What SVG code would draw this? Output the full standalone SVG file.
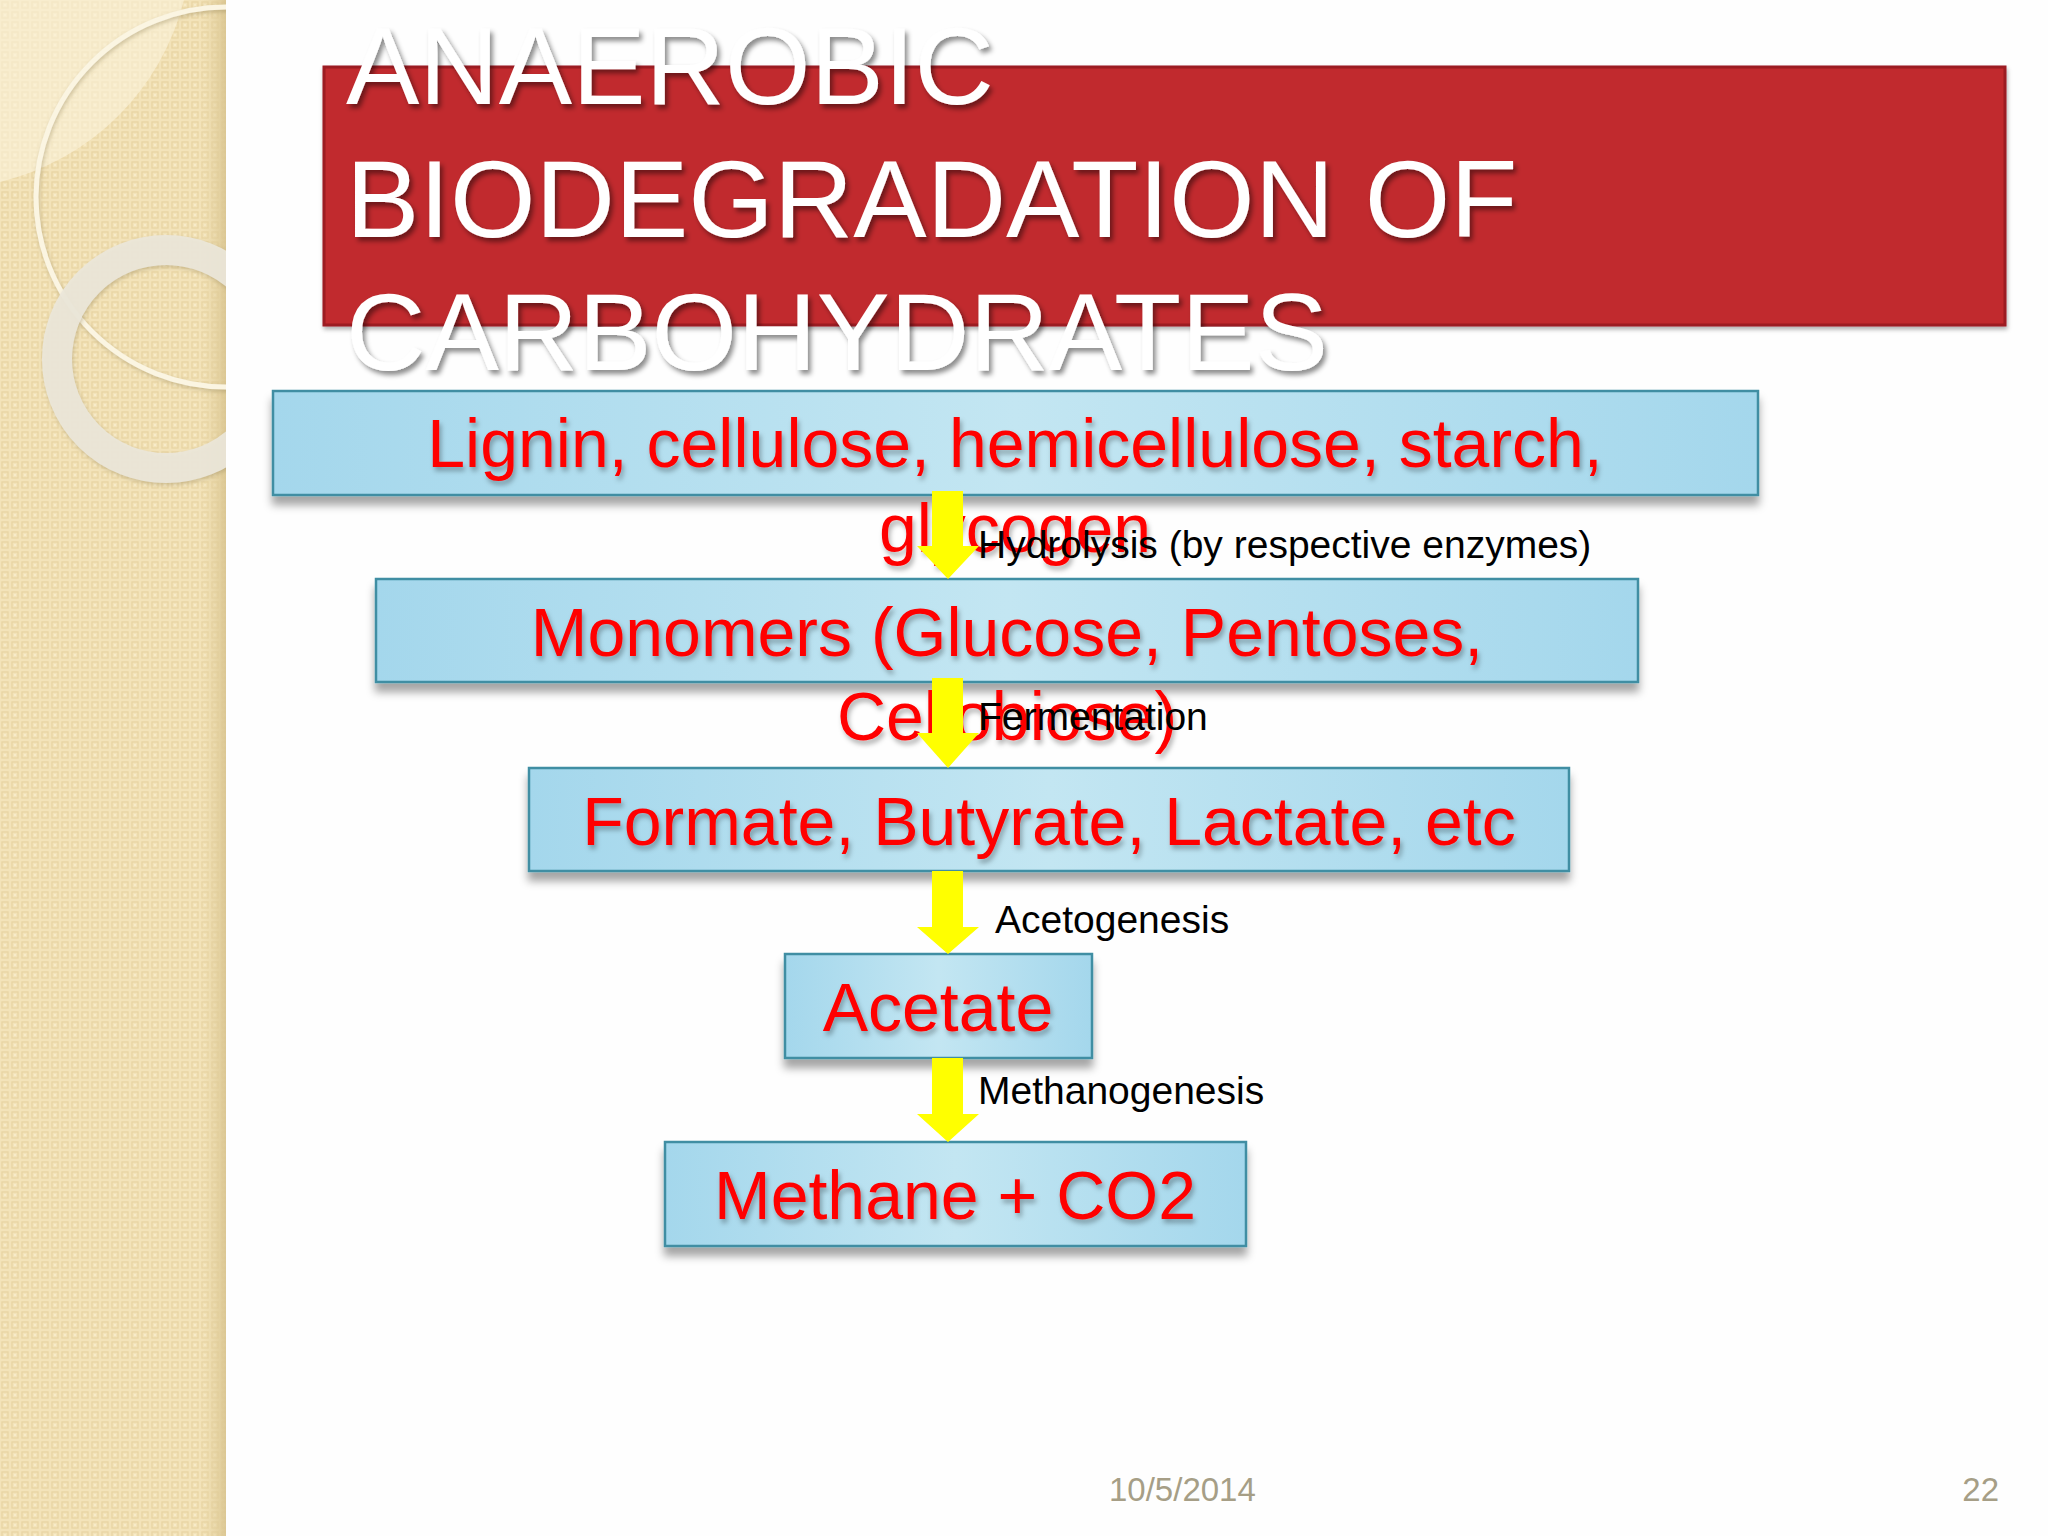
<svg xmlns="http://www.w3.org/2000/svg" width="2048" height="1536" viewBox="0 0 2048 1536">
<defs>
<style>
.title{font-family:"Liberation Sans",Arial,sans-serif;font-size:110px;fill:#ffffff;filter:url(#tsh)}
.box{fill:url(#blueg);stroke:#3f8ea3;stroke-width:2.5;filter:url(#bsh)}
.bt{font-family:"Liberation Sans",Arial,sans-serif;font-size:68px;fill:#ff0000;text-anchor:middle;filter:url(#rsh)}
.lbl{font-family:"Liberation Sans",Arial,sans-serif;font-size:39px;fill:#000000}
.arrow{fill:#ffff00}
.foot{font-family:"Liberation Sans",Arial,sans-serif;font-size:33px;fill:#a69e86}
</style>
<linearGradient id="blueg" x1="0" y1="0" x2="1" y2="0">
<stop offset="0" stop-color="#a4d7ec"/>
<stop offset="0.5" stop-color="#c3e6f2"/>
<stop offset="1" stop-color="#a4d7ec"/>
</linearGradient>
<linearGradient id="sideedge" x1="0" y1="0" x2="1" y2="0">
<stop offset="0" stop-color="#e8d6a6" stop-opacity="0"/>
<stop offset="1" stop-color="#d9c48f" stop-opacity="0.9"/>
</linearGradient>
<pattern id="dots" width="10" height="10" patternUnits="userSpaceOnUse">
<rect width="10" height="10" fill="#f3e3b9"/>
<rect x="2" y="2" width="6" height="6" fill="none" stroke="#e9d5a3" stroke-width="1.3"/>
<rect x="4" y="4" width="2" height="2" fill="#f7ebc9"/>
</pattern>
<clipPath id="sideclip"><rect x="0" y="0" width="226" height="1536"/></clipPath>
<filter id="tsh" x="-5%" y="-20%" width="110%" height="140%">
<feDropShadow dx="3" dy="4" stdDeviation="2.5" flood-color="#000" flood-opacity="0.45"/>
</filter>
<filter id="rsh" x="-5%" y="-20%" width="110%" height="150%">
<feDropShadow dx="2" dy="4" stdDeviation="2.5" flood-color="#000" flood-opacity="0.3"/>
</filter>
<filter id="bsh" x="-5%" y="-20%" width="110%" height="150%">
<feDropShadow dx="0" dy="9" stdDeviation="4" flood-color="#000" flood-opacity="0.35"/>
</filter>
<filter id="redsh" x="-5%" y="-10%" width="110%" height="130%">
<feDropShadow dx="1" dy="3" stdDeviation="2" flood-color="#000" flood-opacity="0.3"/>
</filter>
<filter id="ringsh" x="-20%" y="-20%" width="140%" height="140%">
<feDropShadow dx="1" dy="2" stdDeviation="2" flood-color="#8a7a50" flood-opacity="0.4"/>
</filter>
</defs>
<rect width="2048" height="1536" fill="#fefefe"/>
<g id="sidebar" clip-path="url(#sideclip)">
<rect x="0" y="0" width="226" height="1536" fill="url(#dots)"/>
<rect x="200" y="0" width="26" height="1536" fill="url(#sideedge)"/>
<path d="M0,0 H184 A250,250 0 0 1 0,182 Z" fill="#fbf3dc" fill-opacity="0.6"/>
<circle cx="226" cy="197" r="190" fill="none" stroke="#fbf5e2" stroke-width="5" filter="url(#ringsh)"/>
<circle cx="166" cy="359" r="109" fill="none" stroke="#ebe7da" stroke-width="30" stroke-opacity="0.92" filter="url(#ringsh)"/>
</g>
<g id="title">
<rect x="324" y="67" width="1681" height="258" fill="#c1292e" stroke="#9c1d21" stroke-width="3" filter="url(#redsh)"/>
<text class="title" x="346" y="104">ANAEROBIC</text>
<text class="title" x="346" y="237">BIODEGRADATION OF</text>
<text class="title" x="346" y="370">CARBOHYDRATES</text>
</g>
<g id="node-polymers">
<rect class="box" x="273" y="391" width="1485" height="104"/>
<text class="bt" x="1015" y="467">Lignin, cellulose, hemicellulose, starch,</text>
<text class="bt" x="1015" y="552">glycogen</text>
</g>
<g id="node-monomers">
<rect class="box" x="376" y="579" width="1262" height="103"/>
<text class="bt" x="1007" y="656">Monomers (Glucose, Pentoses,</text>
<text class="bt" x="1007" y="740">Cellobiose)</text>
</g>
<g id="node-acids">
<rect class="box" x="529" y="768" width="1040" height="103"/>
<text class="bt" x="1049" y="845">Formate, Butyrate, Lactate, etc</text>
</g>
<g id="node-acetate">
<rect class="box" x="785" y="954" width="307" height="104"/>
<text class="bt" x="938" y="1031">Acetate</text>
</g>
<g id="node-methane">
<rect class="box" x="665" y="1142" width="581" height="104"/>
<text class="bt" x="955" y="1219">Methane + CO2</text>
</g>
<g id="connectors">
<path class="arrow" d="M932,491 H963 V546 H979 L948,579 L917,546 H932 Z"/>
<path class="arrow" d="M932,678 H963 V733 H979 L948,768 L917,733 H932 Z"/>
<path class="arrow" d="M932,871 H963 V927 H979 L948,954 L917,927 H932 Z"/>
<path class="arrow" d="M932,1058 H963 V1114 H979 L948,1142 L917,1114 H932 Z"/>
<text class="lbl" x="978" y="558">Hydrolysis (by respective enzymes)</text>
<text class="lbl" x="978" y="730">Fermentation</text>
<text class="lbl" x="995" y="933">Acetogenesis</text>
<text class="lbl" x="978" y="1104">Methanogenesis</text>
</g>
<g id="footer">
<text class="foot" x="1109" y="1501">10/5/2014</text>
<text class="foot" x="1999" y="1501" text-anchor="end">22</text>
</g>
</svg>
